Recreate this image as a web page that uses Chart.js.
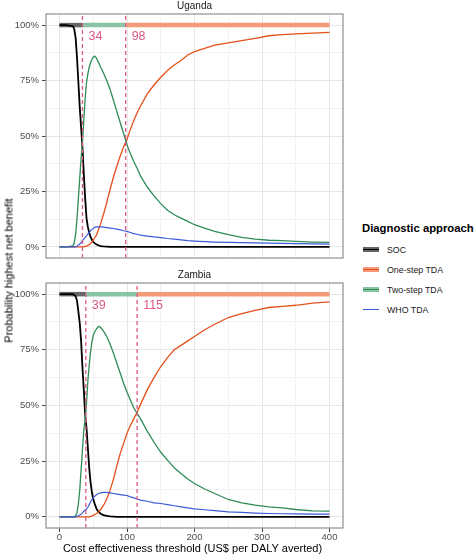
<!DOCTYPE html>
<html>
<head>
<meta charset="utf-8">
<script src="https://cdn.jsdelivr.net/npm/chart.js@4.4.1/dist/chart.umd.min.js"></script>
<style>
  body { margin: 0; background: #fff; font-family: "Liberation Sans", Arial, sans-serif; }
  #wrap { position: relative; width: 474px; height: 557px; overflow: hidden; }
  canvas { position: absolute; left: 0; }
  .txt { position: absolute; white-space: nowrap; }
  .strip { left: 46px; width: 297px; text-align: center; font-size: 10px; line-height: 12px; color: #1a1a1a; }
  .key { position: absolute; left: 363px; width: 16px; }
</style>
</head>
<body>
<div id="wrap">
  <canvas id="uganda" width="350" height="270" style="top:0px"></canvas>
  <canvas id="zambia" width="350" height="295" style="top:262px"></canvas>
  <div class="txt strip" style="top:0px">Uganda</div>
  <div class="txt strip" style="top:268.5px">Zambia</div>
  <div class="txt" style="left:-141px; top:264px; width:300px; text-align:center; font-size:11px; line-height:13px; color:#000; transform:rotate(-90deg);">Probability highest net benefit</div>
  <div class="txt" style="left:44px; top:542px; width:297px; text-align:center; font-size:11px; line-height:13px; color:#000;">Cost effectiveness threshold (US$ per DALY averted)</div>
  <div class="txt" style="left:362px; top:222px; font-size:11.3px; font-weight:bold; line-height:13px; color:#000;">Diagnostic approach</div>
  <div id="legend"></div>
</div>
<script>
// thresholds (US$ per DALY averted)
const thresholds = [0, 10, 20, 22, 24, 26, 28, 30, 32, 34, 36, 38, 40, 42, 44, 46, 48, 50, 52, 55, 58, 61, 65,
  70, 75, 80, 85, 90, 95, 100, 105, 110, 115, 120, 130, 140, 150, 160, 170, 180, 190, 200, 215, 230,
  250, 270, 290, 310, 330, 350, 375, 400];

// Uganda, probability (%) highest net benefit
const ugandaSOC = [100, 100, 99.5, 98, 94, 85, 74, 63, 54, 45, 33, 22, 13, 9, 6.5, 4.5, 3.2, 2.3, 1.7, 1.1, 0.7, 0.4, 0.2,
  0.1, 0, 0, 0, 0, 0, 0, 0, 0, 0, 0, 0, 0, 0, 0, 0, 0, 0, 0, 0, 0,
  0, 0, 0, 0, 0, 0, 0, 0];
const ugandaOneStep = [0, 0, 0, 0, 0, 0, 0, 0, 0, 0, 0, 0.2, 0.4, 0.7, 1, 1.5, 2.2, 3, 4, 5.5, 8, 10.5, 14.5,
  20, 26, 31.5, 36.5, 41, 45, 48.5, 53, 57, 60.5, 63.5, 69, 73, 76.5, 79.5, 82, 84, 86.5, 88, 89.5, 91,
  92, 93, 94, 95.2, 95.7, 96, 96.4, 96.7];
const ugandaTwoStep = [0, 0, 0.5, 2, 6, 13, 22, 31, 40, 47, 57, 67, 74, 78, 81, 83, 84.5, 85.5, 86, 85, 83, 81, 78.5,
  75, 71, 66, 61, 56, 51, 46, 42, 38.5, 35.5, 32, 27, 23, 19.5, 16.5, 14.5, 13, 11.5, 10, 8.5, 7,
  5.5, 4.3, 3.5, 3, 2.8, 2.5, 2.2, 2];
const ugandaWHO = [0, 0, 0, 0, 0, 0.3, 0.8, 1.3, 2, 2.8, 3.5, 4.3, 5, 5.8, 6.5, 7.2, 7.8, 8.3, 8.8, 9, 9, 9, 8.9,
  8.7, 8.5, 8.3, 8, 7.7, 7.3, 7, 6.5, 6, 5.7, 5.3, 4.9, 4.5, 4.2, 3.8, 3.5, 3.2, 2.8, 2.6, 2.4, 2.2,
  2, 1.9, 1.8, 1.7, 1.6, 1.5, 1.4, 1.3];

// Zambia
const zambiaSOC = [100, 100, 100, 99.5, 99, 97, 92, 87, 79, 67, 57, 46, 40, 31, 22, 15.5, 11, 8, 6, 3.5, 2.2, 1.4, 0.8,
  0.4, 0.2, 0.1, 0, 0, 0, 0, 0, 0, 0, 0, 0, 0, 0, 0, 0, 0, 0, 0, 0, 0,
  0, 0, 0, 0, 0, 0, 0, 0];
const zambiaOneStep = [0, 0, 0, 0, 0, 0, 0, 0, 0, 0, 0, 0, 0, 0, 0, 0.2, 0.4, 0.7, 1, 1.5, 2.2, 3.3, 5,
  8, 12, 17, 23, 28.5, 33, 37.5, 41, 44, 47, 50.5, 57, 62.5, 67.5, 71.5, 75, 77, 79, 81, 84, 86.5,
  89.5, 91.3, 92.7, 94, 94.5, 95, 96, 96.5];
const zambiaTwoStep = [0, 0, 0, 0, 0.5, 2, 6, 12, 21, 30, 39, 44, 51, 61, 68, 74, 78.5, 81.5, 83, 84.5, 85.5, 85, 83.5,
  81, 77.5, 73.5, 69, 64.5, 60, 56, 52.5, 49, 46.5, 44, 38.5, 33.5, 29, 25.5, 22, 19.5, 17, 15, 12.5, 10.5,
  7.8, 6.3, 5.3, 4.5, 4, 3.3, 2.7, 2.6];
const zambiaWHO = [0, 0, 0, 0, 0, 0.2, 0.5, 0.8, 1.2, 1.8, 2.5, 3, 3.5, 4.3, 5.5, 6.8, 7.8, 8.6, 9.2, 10, 10.5, 10.8, 11,
  11, 10.8, 10.5, 10.2, 10, 9.8, 9.6, 9, 8.5, 8, 7.5, 7, 6.3, 6, 5.5, 5, 4.5, 4, 3.6, 3.2, 2.8,
  2.2, 2, 1.7, 1.5, 1.4, 1.3, 1.2, 1.2];

// optimal strategy switches: SOC -> Two-step -> One-step
const ugandaCuts = [34, 98];
const zambiaCuts = [39, 115];
const xRange = [0, 400];

const strategies = ['SOC', 'One-step TDA', 'Two-step TDA', 'WHO TDA'];
const xTicks = [0, 100, 200, 300, 400];
const yTicks = [0, 25, 50, 75, 100];

const lineColors = ['#000000', '#e4501c', '#2e8b57', '#3b5bd4'];
const bandColors = ['#666666', '#f59a78', '#8bc4a3', null];
const lineWidths = [1.8, 1.3, 1.3, 1.2];
const cutColor = '#dd5a82';

Chart.defaults.font.family = '"Liberation Sans", Arial, sans-serif';

const panelBox = {
  id: 'panelBox',
  afterDatasetsDraw(chart, args, opts) {
    const { ctx, chartArea: a, scales } = chart;
    ctx.save();
    ctx.fillStyle = cutColor;
    ctx.font = '12.5px "Liberation Sans", Arial, sans-serif';
    ctx.textBaseline = 'middle';
    ctx.textAlign = 'left';
    opts.cuts.forEach(c => {
      ctx.fillText(String(c), scales.x.getPixelForValue(c) + 6, scales.y.getPixelForValue(94.8));
    });
    ctx.strokeStyle = '#999';
    ctx.lineWidth = 1.3;
    ctx.strokeRect(a.left, a.top, a.right - a.left, a.bottom - a.top);
    ctx.restore();
  }
};

function pts(vals) {
  return thresholds.map((t, i) => ({ x: t, y: vals[i] }));
}

function makeChart(id, series, cuts, showX) {
  const datasets = [];
  // dashed switch lines
  cuts.forEach(c => {
    datasets.push({
      data: [{ x: c, y: -5 }, { x: c, y: 105 }],
      borderColor: cutColor, borderWidth: 1.3, borderDash: [4, 3],
      pointRadius: 0, order: 0
    });
  });
  // probability curves
  series.forEach((s, k) => {
    datasets.push({
      label: strategies[k],
      data: pts(s),
      borderColor: lineColors[k], borderWidth: lineWidths[k],
      pointRadius: 0, tension: 0, order: 4 - k
    });
  });
  // bar at 100% showing the optimal approach
  const edges = [xRange[0], cuts[0], cuts[1], xRange[1]];
  const bandOrder = [0, 2, 1];
  bandOrder.forEach((k, j) => {
    datasets.push({
      data: [{ x: edges[j], y: 100 }, { x: edges[j + 1], y: 100 }],
      borderColor: bandColors[k], borderWidth: 4.5, borderCapStyle: 'butt',
      pointRadius: 0, order: 10
    });
  });

  return new Chart(document.getElementById(id), {
    type: 'line',
    plugins: [panelBox],
    data: { datasets },
    options: {
      responsive: false,
      animation: false,
      layout: { padding: { top: showX ? 21 : 14, right: 7, left: 0, bottom: 0 } },
      plugins: {
        legend: { display: false },
        tooltip: { enabled: false },
        panelBox: { cuts }
      },
      scales: {
        x: {
          type: 'linear', min: -20, max: 420,
          afterBuildTicks: s => { s.ticks = [0, 50, 100, 150, 200, 250, 300, 350, 400].map(v => ({ value: v })); },
          afterFit: s => { s.height = showX ? 29 : 12; },
          border: { display: false },
          grid: {
            color: c => xTicks.includes(c.tick.value) ? '#e6e6e6' : '#f2f2f2',
            tickColor: c => xTicks.includes(c.tick.value) ? '#444' : 'rgba(0,0,0,0)',
            drawTicks: showX, tickLength: 4
          },
          ticks: {
            display: showX, autoSkip: false, maxRotation: 0, padding: 0,
            color: '#4d4d4d', font: { size: 9.5 },
            callback: v => xTicks.includes(v) ? String(v) : ''
          }
        },
        y: {
          min: -5, max: 105,
          afterBuildTicks: s => { s.ticks = [0, 12.5, 25, 37.5, 50, 62.5, 75, 87.5, 100].map(v => ({ value: v })); },
          afterFit: s => { s.width = 46; },
          border: { display: false },
          grid: {
            color: c => yTicks.includes(c.tick.value) ? '#e6e6e6' : '#f2f2f2',
            tickColor: c => yTicks.includes(c.tick.value) ? '#444' : 'rgba(0,0,0,0)',
            tickLength: 4
          },
          ticks: {
            autoSkip: false, padding: 3,
            color: '#4d4d4d', font: { size: 9.5 },
            callback: v => yTicks.includes(v) ? v + '%' : ''
          }
        }
      }
    }
  });
}

makeChart('uganda', [ugandaSOC, ugandaOneStep, ugandaTwoStep, ugandaWHO], ugandaCuts, false);
makeChart('zambia', [zambiaSOC, zambiaOneStep, zambiaTwoStep, zambiaWHO], zambiaCuts, true);

// legend
const legend = document.getElementById('legend');
strategies.forEach((name, k) => {
  const cy = 249.5 + k * 20;
  if (bandColors[k]) {
    const bar = document.createElement('div');
    bar.className = 'key';
    bar.style.cssText = `top:${cy - 2.25}px;height:4.5px;background:${bandColors[k]};`;
    legend.appendChild(bar);
  }
  const ln = document.createElement('div');
  ln.className = 'key';
  ln.style.cssText = `top:${cy - lineWidths[k] / 2}px;height:${lineWidths[k]}px;background:${lineColors[k]};`;
  legend.appendChild(ln);
  const t = document.createElement('div');
  t.className = 'txt';
  t.style.cssText = `left:387px;top:${cy - 6}px;font-size:8.8px;line-height:12px;color:#1a1a1a;`;
  t.textContent = name;
  legend.appendChild(t);
});
</script>
</body>
</html>
